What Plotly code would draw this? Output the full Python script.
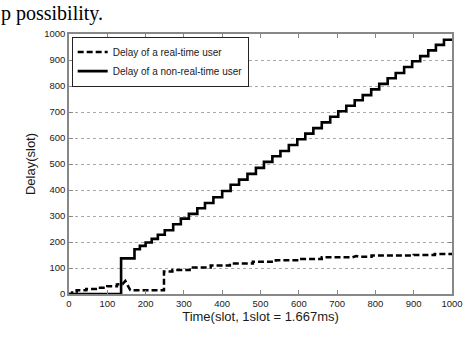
import plotly.graph_objects as go

# Non-real-time user delay (solid staircase) - step breakpoints
nrt_x = [0, 136, 171, 185, 200, 216, 232, 250, 272, 292, 313, 335, 355, 377, 400, 422, 444,
         466, 488, 509, 531, 552, 574, 596, 617, 638, 660, 682, 703, 724, 746, 767, 789,
         810, 832, 853, 875, 896, 917, 938, 958, 979, 1000]
nrt_y = [0, 137, 172, 185, 198, 212, 228, 245, 268, 290, 308, 330, 350, 372, 396, 420, 440,
         462, 485, 508, 530, 550, 573, 595, 617, 638, 660, 682, 703, 724, 745, 765, 787,
         808, 830, 850, 873, 895, 915, 937, 958, 978, 978]

# Real-time user delay (dashed)
rt_x = [0, 8, 8, 20, 20, 45, 45, 75, 75, 100, 100, 125, 125, 140, 147, 158, 160, 180, 248, 248,
        270, 270, 315, 315, 370, 370, 420, 420, 480, 480, 540, 540, 600, 600, 660, 660,
        740, 750, 760, 790, 790, 900, 900, 955, 955, 1000]
rt_y = [0, 0, 6, 6, 14, 14, 19, 19, 24, 24, 30, 30, 37, 38, 50, 22, 15, 14, 14, 87,
        87, 92, 92, 102, 102, 110, 110, 117, 117, 124, 124, 130, 130, 135, 135, 141,
        141, 146, 143, 143, 148, 148, 150, 150, 154, 154]

x_ticks = [0, 100, 200, 300, 400, 500, 600, 700, 800, 900, 1000]
y_ticks = [0, 100, 200, 300, 400, 500, 600, 700, 800, 900, 1000]

fig = go.Figure()
fig.add_trace(go.Scatter(x=rt_x, y=rt_y, mode="lines", name="Delay of a real-time user",
                         line=dict(color="black", width=2.5, dash="6px,3px")))
fig.add_trace(go.Scatter(x=nrt_x, y=nrt_y, mode="lines", name="Delay of a non-real-time user",
                         line=dict(color="black", width=2.6, shape="hv")))

axis_common = dict(
    showline=True, linecolor="#888", linewidth=1.5, mirror="ticks",
    ticks="inside", ticklen=4, tickcolor="#888", tickwidth=1,
    tickfont=dict(family="Arial", size=9.5, color="#1a1a1a"),
    zeroline=False,
)

fig.update_xaxes(range=[0, 1000], tickvals=x_ticks, showgrid=False,
                 title=dict(text="Time(slot, 1slot = 1.667ms)",
                            font=dict(family="Arial", size=13, color="#1a1a1a"), standoff=2),
                 **axis_common)
fig.update_yaxes(range=[0, 1000], tickvals=y_ticks, showgrid=True,
                 gridcolor="#aaa", griddash="dot", gridwidth=1,
                 title=dict(text="Delay(slot)",
                            font=dict(family="Arial", size=13, color="#1a1a1a"), standoff=6),
                 **axis_common)

fig.update_layout(
    width=474, height=349,
    margin=dict(l=69, r=22, t=34, b=55),
    paper_bgcolor="white", plot_bgcolor="white",
    showlegend=True,
    legend=dict(x=0.007, y=0.99, xanchor="left", yanchor="top",
                bgcolor="white", bordercolor="#222", borderwidth=1,
                font=dict(family="Arial", size=10, color="#1a1a1a"),
                tracegroupgap=0, itemwidth=30),
    annotations=[dict(text="p possibility.", xref="paper", yref="paper",
                      x=-0.181, y=1.128, xanchor="left", yanchor="top",
                      showarrow=False, borderpad=0,
                      font=dict(family="Liberation Serif", size=20, color="black"))],
)

fig.write_html("out.html")
